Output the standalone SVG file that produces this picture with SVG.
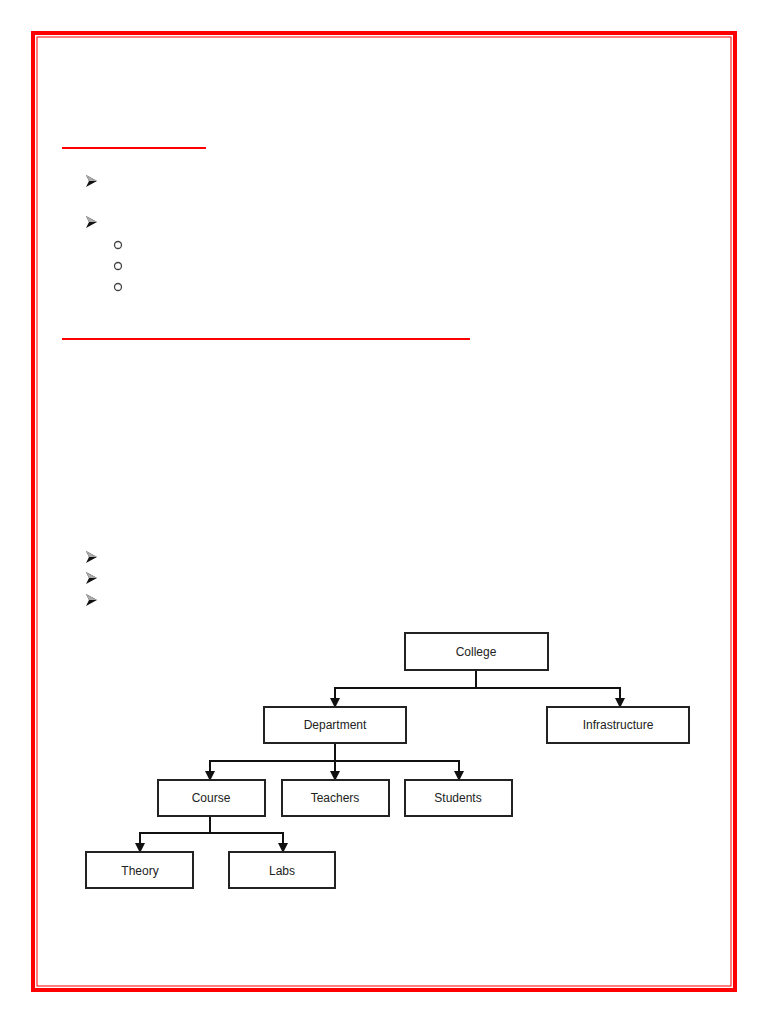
<svg xmlns="http://www.w3.org/2000/svg" width="768" height="1024" viewBox="0 0 768 1024">
<style>
.box{fill:#fff;stroke:#222;stroke-width:2}
.lbl{font-family:"Liberation Sans",Arial,sans-serif;font-size:12px;fill:#222;text-anchor:middle}
.con{fill:none;stroke:#111;stroke-width:2}
.red{stroke:#f00;fill:none}
</style>
<defs>
<marker id="ah" markerWidth="10" markerHeight="10" refX="9" refY="5" orient="auto" markerUnits="userSpaceOnUse"><path d="M0,0 L10,5 L0,10 z" fill="#111"/></marker>
<g id="arr"><path d="M-5,-6 L6,0 L-5,6 L-2,0 z" fill="#111"/><path d="M-5,-6 L6,0 L-2,0 z" fill="#aaa"/></g>
</defs>
<rect width="768" height="1024" fill="#fff"/>
<rect x="33" y="33" width="702" height="957" class="red" stroke-width="4"/>
<rect x="37" y="37" width="694" height="949" class="red" stroke-width="1"/>
<line x1="62" y1="148" x2="206" y2="148" class="red" stroke-width="2"/>
<line x1="62" y1="339" x2="470" y2="339" class="red" stroke-width="2"/>
<use href="#arr" x="91" y="181"/>
<use href="#arr" x="91" y="222"/>
<use href="#arr" x="91" y="557"/>
<use href="#arr" x="91" y="578"/>
<use href="#arr" x="91" y="600"/>
<g fill="none" stroke="#444" stroke-width="1.3">
<circle cx="118" cy="245" r="3.5"/><circle cx="118" cy="266" r="3.5"/><circle cx="118" cy="287" r="3.5"/>
</g>
<g id="connectors">
<path class="con" d="M476,670 V688 M335,688 H620"/>
<path class="con" marker-end="url(#ah)" d="M335,687 V707"/>
<path class="con" marker-end="url(#ah)" d="M620,687 V707"/>
<path class="con" d="M335,743 V761 M210,761 H459"/>
<path class="con" marker-end="url(#ah)" d="M210,760 V780"/>
<path class="con" marker-end="url(#ah)" d="M335,760 V780"/>
<path class="con" marker-end="url(#ah)" d="M459,760 V780"/>
<path class="con" d="M210,816 V833 M140,833 H283"/>
<path class="con" marker-end="url(#ah)" d="M140,832 V852"/>
<path class="con" marker-end="url(#ah)" d="M283,832 V852"/>
</g>
<g id="college"><rect class="box" x="405" y="633" width="143" height="37"/><text class="lbl" x="476" y="656">College</text></g>
<g id="department"><rect class="box" x="264" y="707" width="142" height="36"/><text class="lbl" x="335" y="729">Department</text></g>
<g id="infrastructure"><rect class="box" x="547" y="707" width="142" height="36"/><text class="lbl" x="618" y="729">Infrastructure</text></g>
<g id="course"><rect class="box" x="158" y="780" width="107" height="36"/><text class="lbl" x="211" y="802">Course</text></g>
<g id="teachers"><rect class="box" x="282" y="780" width="107" height="36"/><text class="lbl" x="335" y="802">Teachers</text></g>
<g id="students"><rect class="box" x="405" y="780" width="107" height="36"/><text class="lbl" x="458" y="802">Students</text></g>
<g id="theory"><rect class="box" x="86" y="852" width="107" height="36"/><text class="lbl" x="140" y="875">Theory</text></g>
<g id="labs"><rect class="box" x="229" y="852" width="106" height="36"/><text class="lbl" x="282" y="875">Labs</text></g>
</svg>
